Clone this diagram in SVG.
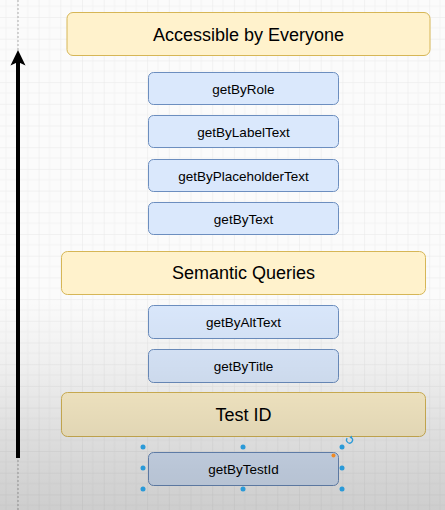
<svg xmlns="http://www.w3.org/2000/svg" width="445" height="510" viewBox="0 0 445 510">
  <defs>
    <pattern id="grid" x="16.9" y="17" width="21.7" height="21.7" patternUnits="userSpaceOnUse">
      <path d="M10.85 0V21.7M0 10.85H21.7" stroke="#f3f3f3" stroke-width="1" fill="none"/>
      <path d="M0 0V21.7M0 0H21.7" stroke="#e8e8e8" stroke-width="1" fill="none"/>
    </pattern>
    <linearGradient id="dim" x1="0" y1="0" x2="0" y2="510" gradientUnits="userSpaceOnUse">
      <stop offset="0" stop-color="#000" stop-opacity="0"/>
      <stop offset="0.58" stop-color="#000" stop-opacity="0"/>
      <stop offset="0.72" stop-color="#000" stop-opacity="0.05"/>
      <stop offset="0.82" stop-color="#000" stop-opacity="0.1"/>
      <stop offset="0.92" stop-color="#000" stop-opacity="0.15"/>
      <stop offset="1" stop-color="#000" stop-opacity="0.18"/>
    </linearGradient>
  </defs>
  <style>
    .hdr rect { fill: #fff2cc; stroke: #d6b656; stroke-width: 1; }
    .item rect { fill: #dae8fc; stroke: #6c8ebf; stroke-width: 1; }
    .hdr text { font-family: "Liberation Sans", Arial, sans-serif; font-size: 18px; fill: #000; text-anchor: middle; }
    .item text { font-family: "Liberation Sans", Arial, sans-serif; font-size: 13.5px; fill: #000; text-anchor: middle; }
    .h { fill: #2a9ad8; }
  </style>

  <rect x="0" y="0" width="445" height="510" fill="#fbfbfb"/>
  <rect x="0" y="0" width="445" height="510" fill="url(#grid)"/>

  <g id="connectors">
    <line x1="18" y1="0" x2="18" y2="510" stroke="#9a9a9a" stroke-width="0.8" stroke-dasharray="2 2"/>
    <line x1="18" y1="458" x2="18" y2="60" stroke="#000" stroke-width="4"/>
    <path d="M18 50L25.5 65.5L18 62L10.5 65.5Z" fill="#000"/>
  </g>

  <g id="accessible" class="hdr">
    <rect x="67" y="12.5" width="363" height="43" rx="6"/>
    <text x="248.5" y="40.5">Accessible by Everyone</text>
  </g>
  <g id="getByRole" class="item">
    <rect x="148.5" y="72.5" width="190" height="32" rx="5"/>
    <text x="243.5" y="93.5">getByRole</text>
  </g>
  <g id="getByLabelText" class="item">
    <rect x="148.5" y="115.5" width="190" height="32" rx="5"/>
    <text x="243.5" y="136.5">getByLabelText</text>
  </g>
  <g id="getByPlaceholderText" class="item">
    <rect x="148.5" y="159.5" width="190" height="32" rx="5"/>
    <text x="243.5" y="180.5">getByPlaceholderText</text>
  </g>
  <g id="getByText" class="item">
    <rect x="148.5" y="202.5" width="190" height="32" rx="5"/>
    <text x="243.5" y="223.5">getByText</text>
  </g>
  <g id="semantic" class="hdr">
    <rect x="61.5" y="251.5" width="364" height="43" rx="6"/>
    <text x="243.5" y="279">Semantic Queries</text>
  </g>
  <g id="getByAltText" class="item">
    <rect x="148.5" y="305.5" width="190" height="33" rx="5"/>
    <text x="243.5" y="327">getByAltText</text>
  </g>
  <g id="getByTitle" class="item">
    <rect x="148.5" y="349.5" width="190" height="33" rx="5"/>
    <text x="243.5" y="371">getByTitle</text>
  </g>
  <g id="testid" class="hdr">
    <rect x="61.5" y="392.5" width="364" height="44" rx="6"/>
    <text x="243.5" y="420.5">Test ID</text>
  </g>
  <g id="getByTestId" class="item">
    <rect x="148.5" y="452.5" width="190" height="33" rx="5"/>
    <text x="243.5" y="474">getByTestId</text>
  </g>

  <rect x="0" y="0" width="445" height="510" fill="url(#dim)" pointer-events="none"/>

  <g id="selection">
    <circle class="h" cx="143" cy="447" r="2.5"/>
    <circle class="h" cx="243" cy="447" r="2.5"/>
    <circle class="h" cx="342" cy="447" r="2.5"/>
    <circle class="h" cx="143" cy="468" r="2.5"/>
    <circle class="h" cx="342" cy="468" r="2.5"/>
    <circle class="h" cx="143" cy="489" r="2.5"/>
    <circle class="h" cx="243" cy="489" r="2.5"/>
    <circle class="h" cx="342" cy="489" r="2.5"/>
    <circle cx="333.5" cy="455.5" r="2" fill="#f08a24"/>
    <path d="M351.5 437.8A3 3 0 1 1 347.2 438.2" fill="none" stroke="#2a9ad8" stroke-width="1.2"/>
    <path d="M351.8 435.6L352.2 438.6L349.3 438.1Z" fill="#2a9ad8"/>
  </g>
</svg>
